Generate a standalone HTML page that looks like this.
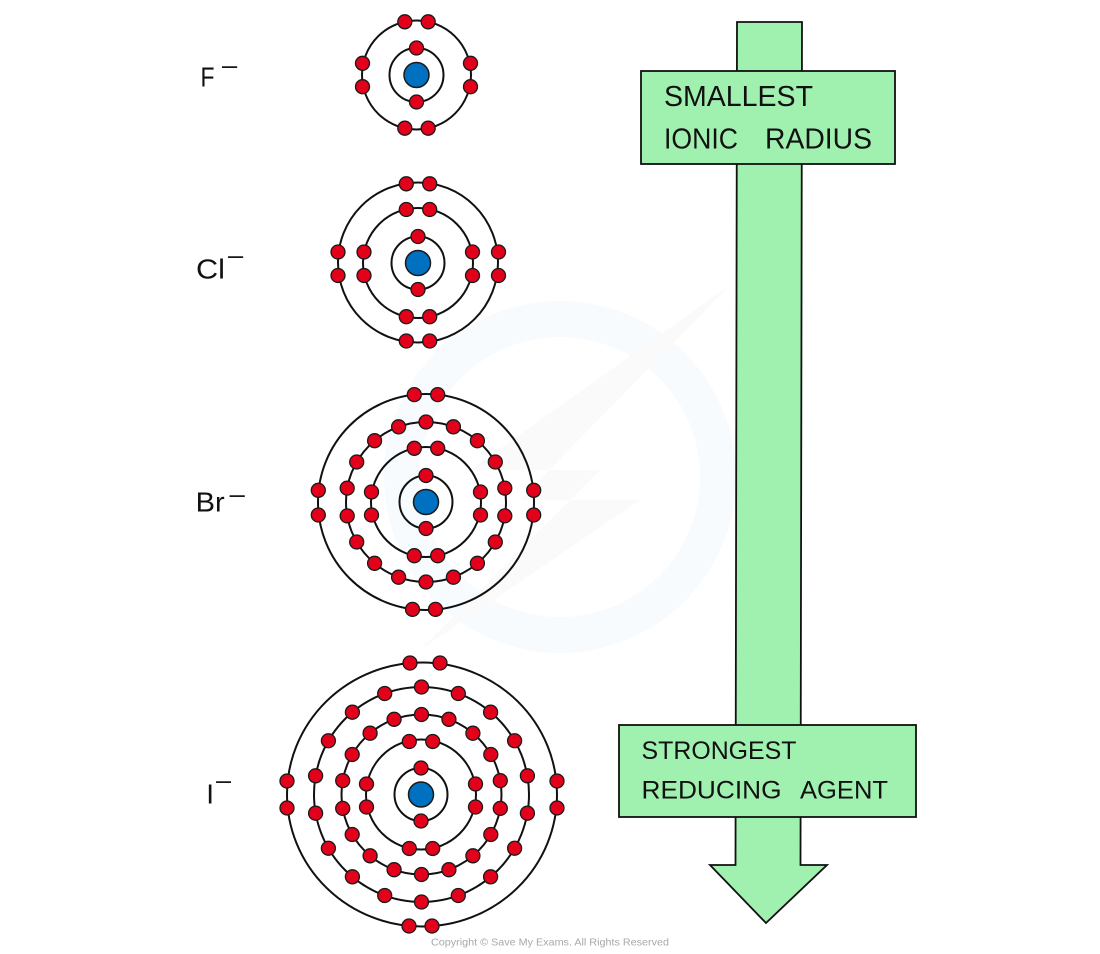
<!DOCTYPE html>
<html>
<head>
<meta charset="utf-8">
<style>
  html,body{margin:0;padding:0;background:#fff;}
  svg{display:block;}
  .sh{fill:none;stroke:#111;stroke-width:2;}
  .e{fill:#e2001a;stroke:#1a1a1a;stroke-width:1.3;}
  .n{fill:#0070c0;stroke:#1a1a1a;stroke-width:1.5;}
  .lbl{font-family:"Liberation Sans",sans-serif;font-size:28px;fill:#111;}
  .mn{font-family:"Liberation Sans",sans-serif;font-size:24px;fill:#111;}
  .bt{font-family:"Liberation Sans",sans-serif;fill:#111;}
</style>
</head>
<body>
<svg width="1100" height="954" viewBox="0 0 1100 954" xmlns="http://www.w3.org/2000/svg">
  <!-- faint watermark -->
  <circle cx="560" cy="477" r="158" fill="none" stroke="#f8fbfe" stroke-width="36"/>
  <polygon points="730,285 470,470 600,470 420,650 640,500 520,500" fill="#fafafa"/>

  <!-- Labels -->
  <text class="lbl" x="200.5" y="86.7" textLength="14" lengthAdjust="spacingAndGlyphs">F</text>
  <text class="mn" x="220.3" y="74.8" textLength="18.3" lengthAdjust="spacingAndGlyphs">−</text>

  <text class="lbl" x="196" y="278.3" textLength="29" lengthAdjust="spacingAndGlyphs">Cl</text>
  <text class="mn" x="226.3" y="264.8" textLength="18.3" lengthAdjust="spacingAndGlyphs">−</text>

  <text class="lbl" x="195.7" y="511.7" textLength="29" lengthAdjust="spacingAndGlyphs">Br</text>
  <text class="mn" x="227.9" y="504.1" textLength="18.3" lengthAdjust="spacingAndGlyphs">−</text>

  <text class="lbl" x="206.3" y="803.3">I</text>
  <text class="mn" x="214.4" y="789.8" textLength="18" lengthAdjust="spacingAndGlyphs">−</text>

  <!-- F- atom -->
  <circle class="sh" cx="416.5" cy="75" r="27"/>
  <circle class="sh" cx="416.5" cy="75" r="54.5"/>
  <circle class="n" cx="416.5" cy="75" r="12.5"/>
  <circle class="e" cx="416.5" cy="48" r="7"/>
  <circle class="e" cx="416.5" cy="102" r="7"/>
  <circle class="e" cx="404.8" cy="21.8" r="7"/>
  <circle class="e" cx="428.2" cy="21.8" r="7"/>
  <circle class="e" cx="404.8" cy="128.2" r="7"/>
  <circle class="e" cx="428.2" cy="128.2" r="7"/>
  <circle class="e" cx="362.5" cy="63.3" r="7"/>
  <circle class="e" cx="362.5" cy="86.7" r="7"/>
  <circle class="e" cx="470.5" cy="63.3" r="7"/>
  <circle class="e" cx="470.5" cy="86.7" r="7"/>

  <!-- Cl- atom -->
  <circle class="sh" cx="418" cy="263" r="26.5"/>
  <circle class="sh" cx="418" cy="263" r="55"/>
  <circle class="sh" cx="418" cy="262.5" r="80"/>
  <circle class="n" cx="418" cy="263" r="12.5"/>
  <circle class="e" cx="418" cy="236.5" r="7"/>
  <circle class="e" cx="418" cy="289.5" r="7"/>
  <circle class="e" cx="406.3" cy="209.5" r="7"/>
  <circle class="e" cx="429.7" cy="209.5" r="7"/>
  <circle class="e" cx="406.3" cy="316.7" r="7"/>
  <circle class="e" cx="429.7" cy="316.7" r="7"/>
  <circle class="e" cx="364" cy="252" r="7"/>
  <circle class="e" cx="364" cy="275.5" r="7"/>
  <circle class="e" cx="472.5" cy="252" r="7"/>
  <circle class="e" cx="472.5" cy="275.5" r="7"/>
  <circle class="e" cx="406.3" cy="183.8" r="7"/>
  <circle class="e" cx="429.7" cy="183.8" r="7"/>
  <circle class="e" cx="406.3" cy="341" r="7"/>
  <circle class="e" cx="429.7" cy="341" r="7"/>
  <circle class="e" cx="338" cy="252" r="7"/>
  <circle class="e" cx="338" cy="275.5" r="7"/>
  <circle class="e" cx="498.5" cy="252" r="7"/>
  <circle class="e" cx="498.5" cy="275.5" r="7"/>

  <!-- Br- atom -->
  <circle class="sh" cx="426" cy="502" r="26.5"/>
  <circle class="sh" cx="426" cy="502" r="55"/>
  <circle class="sh" cx="426" cy="502" r="80"/>
  <circle class="sh" cx="426" cy="502" r="108"/>
  <circle class="n" cx="426" cy="502" r="12.5"/>
  <circle class="e" cx="426" cy="475.5" r="7"/>
  <circle class="e" cx="426" cy="528.5" r="7"/>
  <!-- shell 2 -->
  <circle class="e" cx="414.3" cy="448.3" r="7"/>
  <circle class="e" cx="437.7" cy="448.3" r="7"/>
  <circle class="e" cx="414.3" cy="555.7" r="7"/>
  <circle class="e" cx="437.7" cy="555.7" r="7"/>
  <circle class="e" cx="371.5" cy="492" r="7"/>
  <circle class="e" cx="371.5" cy="515" r="7"/>
  <circle class="e" cx="480.5" cy="492" r="7"/>
  <circle class="e" cx="480.5" cy="515" r="7"/>
  <!-- shell 3 -->
  <circle class="e" cx="426" cy="422" r="7"/>
  <circle class="e" cx="398.6" cy="426.8" r="7"/>
  <circle class="e" cx="374.6" cy="440.7" r="7"/>
  <circle class="e" cx="356.7" cy="462" r="7"/>
  <circle class="e" cx="347.2" cy="488.1" r="7"/>
  <circle class="e" cx="347.2" cy="515.9" r="7"/>
  <circle class="e" cx="356.7" cy="542" r="7"/>
  <circle class="e" cx="374.6" cy="563.3" r="7"/>
  <circle class="e" cx="398.6" cy="577.2" r="7"/>
  <circle class="e" cx="426" cy="582" r="7"/>
  <circle class="e" cx="453.4" cy="577.2" r="7"/>
  <circle class="e" cx="477.4" cy="563.3" r="7"/>
  <circle class="e" cx="495.3" cy="542" r="7"/>
  <circle class="e" cx="504.8" cy="515.9" r="7"/>
  <circle class="e" cx="504.8" cy="488.1" r="7"/>
  <circle class="e" cx="495.3" cy="462" r="7"/>
  <circle class="e" cx="477.4" cy="440.7" r="7"/>
  <circle class="e" cx="453.4" cy="426.8" r="7"/>
  <!-- shell 4 -->
  <circle class="e" cx="414.3" cy="394.6" r="7"/>
  <circle class="e" cx="437.7" cy="394.6" r="7"/>
  <circle class="e" cx="412.5" cy="609.4" r="7"/>
  <circle class="e" cx="435.5" cy="609.4" r="7"/>
  <circle class="e" cx="318.3" cy="490.3" r="7"/>
  <circle class="e" cx="318.3" cy="515" r="7"/>
  <circle class="e" cx="533.7" cy="490.3" r="7"/>
  <circle class="e" cx="533.7" cy="515" r="7"/>

  <!-- I- atom -->
  <circle class="sh" cx="421" cy="794.5" r="26.5"/>
  <circle class="sh" cx="421" cy="794.5" r="55"/>
  <circle class="sh" cx="421.5" cy="794.5" r="80"/>
  <circle class="sh" cx="421.5" cy="794.5" r="107.5"/>
  <ellipse class="sh" cx="422" cy="794.5" rx="135" ry="132"/>
  <circle class="n" cx="421" cy="794.5" r="12.5"/>
  <circle class="e" cx="421" cy="768" r="7"/>
  <circle class="e" cx="421" cy="821" r="7"/>
  <!-- shell 2 -->
  <circle class="e" cx="409.3" cy="741.5" r="7"/>
  <circle class="e" cx="432.7" cy="741.5" r="7"/>
  <circle class="e" cx="409.3" cy="848.5" r="7"/>
  <circle class="e" cx="432.7" cy="848.5" r="7"/>
  <circle class="e" cx="366.5" cy="784" r="7"/>
  <circle class="e" cx="366.5" cy="807" r="7"/>
  <circle class="e" cx="475.5" cy="784" r="7"/>
  <circle class="e" cx="475.5" cy="807" r="7"/>
  <!-- shell 3 -->
  <circle class="e" cx="421.5" cy="714.5" r="7"/>
  <circle class="e" cx="394.1" cy="719.3" r="7"/>
  <circle class="e" cx="370.1" cy="733.2" r="7"/>
  <circle class="e" cx="352.2" cy="754.5" r="7"/>
  <circle class="e" cx="342.7" cy="780.6" r="7"/>
  <circle class="e" cx="342.7" cy="808.4" r="7"/>
  <circle class="e" cx="352.2" cy="834.5" r="7"/>
  <circle class="e" cx="370.1" cy="855.8" r="7"/>
  <circle class="e" cx="394.1" cy="869.7" r="7"/>
  <circle class="e" cx="421.5" cy="874.5" r="7"/>
  <circle class="e" cx="448.9" cy="869.7" r="7"/>
  <circle class="e" cx="472.9" cy="855.8" r="7"/>
  <circle class="e" cx="490.8" cy="834.5" r="7"/>
  <circle class="e" cx="500.3" cy="808.4" r="7"/>
  <circle class="e" cx="500.3" cy="780.6" r="7"/>
  <circle class="e" cx="490.8" cy="754.5" r="7"/>
  <circle class="e" cx="472.9" cy="733.2" r="7"/>
  <circle class="e" cx="448.9" cy="719.3" r="7"/>
  <!-- shell 4 -->
  <circle class="e" cx="421.5" cy="687" r="7"/>
  <circle class="e" cx="384.7" cy="693.5" r="7"/>
  <circle class="e" cx="352.4" cy="712.2" r="7"/>
  <circle class="e" cx="328.4" cy="740.75" r="7"/>
  <circle class="e" cx="315.6" cy="775.8" r="7"/>
  <circle class="e" cx="315.6" cy="813.2" r="7"/>
  <circle class="e" cx="328.4" cy="848.25" r="7"/>
  <circle class="e" cx="352.4" cy="876.8" r="7"/>
  <circle class="e" cx="384.7" cy="895.5" r="7"/>
  <circle class="e" cx="421.5" cy="902" r="7"/>
  <circle class="e" cx="458.3" cy="895.5" r="7"/>
  <circle class="e" cx="490.6" cy="876.8" r="7"/>
  <circle class="e" cx="514.6" cy="848.25" r="7"/>
  <circle class="e" cx="527.4" cy="813.2" r="7"/>
  <circle class="e" cx="527.4" cy="775.8" r="7"/>
  <circle class="e" cx="514.6" cy="740.75" r="7"/>
  <circle class="e" cx="490.6" cy="712.2" r="7"/>
  <circle class="e" cx="458.3" cy="693.5" r="7"/>
  <!-- shell 5 -->
  <circle class="e" cx="410" cy="663" r="7"/>
  <circle class="e" cx="440" cy="663" r="7"/>
  <circle class="e" cx="409" cy="926" r="7"/>
  <circle class="e" cx="432" cy="926" r="7"/>
  <circle class="e" cx="287" cy="781" r="7"/>
  <circle class="e" cx="287" cy="808" r="7"/>
  <circle class="e" cx="557" cy="781" r="7"/>
  <circle class="e" cx="557" cy="808" r="7"/>

  <!-- Arrow -->
  <polygon points="737,22 802,22 800.5,865 827,865 766,923 710,865 735.5,865" fill="#a0f0b0" stroke="#111" stroke-width="1.8" stroke-linejoin="miter"/>

  <!-- Top box -->
  <rect x="641" y="71" width="254" height="93" fill="#a0f0b0" stroke="#111" stroke-width="1.8"/>
  <text class="bt" x="664" y="106" font-size="29" textLength="149" lengthAdjust="spacingAndGlyphs">SMALLEST</text>
  <text class="bt" x="664" y="148.5" font-size="29" textLength="74" lengthAdjust="spacingAndGlyphs">IONIC</text>
  <text class="bt" x="765" y="148.5" font-size="29" textLength="107" lengthAdjust="spacingAndGlyphs">RADIUS</text>

  <!-- Bottom box -->
  <rect x="619" y="725" width="297" height="92" fill="#a0f0b0" stroke="#111" stroke-width="1.8"/>
  <text class="bt" x="641.5" y="759" font-size="25" textLength="155" lengthAdjust="spacingAndGlyphs">STRONGEST</text>
  <text class="bt" x="641.5" y="798.5" font-size="25" textLength="140" lengthAdjust="spacingAndGlyphs">REDUCING</text>
  <text class="bt" x="800" y="798.5" font-size="25" textLength="88" lengthAdjust="spacingAndGlyphs">AGENT</text>

  <!-- Copyright -->
  <text x="431" y="945.5" font-family="Liberation Sans, sans-serif" font-size="10.5" fill="#a8a8a8" textLength="238" lengthAdjust="spacingAndGlyphs">Copyright © Save My Exams. All Rights Reserved</text>
</svg>
</body>
</html>
